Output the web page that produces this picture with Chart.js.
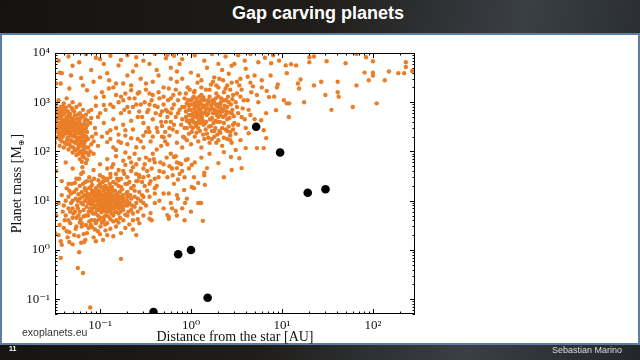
<!DOCTYPE html>
<html>
<head>
<meta charset="utf-8">
<script src="https://cdn.jsdelivr.net/npm/chart.js@4"></script>
<style>
  body { margin:0; width:640px; height:360px; overflow:hidden; position:relative;
    background: linear-gradient(100deg, #15130f 0%, #1f1d1a 45%, #3a3f45 75%, #23272b 100%);
    font-family: "Liberation Sans", Arial, sans-serif; }
  #title { position:absolute; top:3px; left:0; width:636px; text-align:center; color:#fff;
    font-weight:bold; font-size:18px; }
  #panel { position:absolute; left:0; top:33px; width:636px; height:308px; background:#fff;
    border:2px solid #5d7ea3; }
  #src { position:absolute; left:22px; top:326px; font-size:10.5px; color:#333; }
  #page { position:absolute; left:9px; top:345px; font-size:7px; color:#fff; font-weight:bold; }
  #author { position:absolute; right:18px; top:345px; font-size:9px; color:#ddd; }
  #wrap { position:absolute; left:0; top:34px; }
</style>
</head>
<body>
<div id="title">Gap carving planets</div>
<div id="panel"></div>
<div id="wrap"><canvas id="myChart" width="430" height="315"></canvas></div>
<div id="src">exoplanets.eu</div>
<div id="page">11</div>
<div id="author">Sebastian Marino</div>
<script>
// solar system planets (AU, Earth masses)
var solarDist = [0.387, 0.723, 1.0, 1.524, 5.2, 9.54, 19.2, 30.1];
var solarMass = [0.055, 0.815, 1.0, 0.107, 318, 95, 14.5, 17.1];

// exoplanets, [distance AU, mass Earth]
var hotJupiters = [[0.033,420],[0.034,260],[0.035,310],[0.035,520],[0.036,180],[0.036,380],[0.037,240],[0.037,650],[0.038,300],[0.038,450],
  [0.039,200],[0.039,560],[0.04,340],[0.04,270],[0.041,150],[0.041,420],[0.042,230],[0.042,780],[0.043,310],[0.043,500],
  [0.044,190],[0.044,360],[0.045,260],[0.045,620],[0.046,140],[0.046,400],[0.047,300],[0.047,210],[0.048,480],[0.048,170],
  [0.049,350],[0.05,260],[0.05,700],[0.051,120],[0.051,420],[0.052,200],[0.052,310],[0.053,540],[0.054,160],[0.054,380],
  [0.055,250],[0.056,110],[0.056,460],[0.057,190],[0.058,300],[0.058,90],[0.06,230],[0.06,600],[0.061,140],[0.062,350],
  [0.063,100],[0.064,200],[0.065,80],[0.066,270],[0.067,130],[0.068,420],[0.07,170],[0.071,95],[0.072,250],[0.074,120],
  [0.034,330],[0.036,290],[0.038,360],[0.039,250],[0.04,410],[0.041,300],[0.042,360],[0.043,250],[0.044,440],[0.045,330],
  [0.046,230],[0.047,380],[0.048,280],[0.049,210],[0.05,330],[0.052,250],[0.053,150],[0.055,330],[0.057,240],[0.059,170],
  [0.062,280],[0.064,150],[0.066,110],[0.068,210],[0.07,300],[0.033,900],[0.035,1100],[0.037,800],[0.04,950],[0.043,1200],
  [0.046,850],[0.05,1000],[0.055,800],[0.06,900],[0.065,700],[0.07,560],[0.075,650],[0.08,480],[0.078,380],
  [0.06,70],[0.063,62],[0.067,75],[0.07,58],[0.072,68],[0.075,85],[0.078,100],[0.08,140],[0.082,200],[0.085,160],
  [0.088,300],[0.09,230],[0.032,150],[0.033,190],[0.032,250],[0.032,350],[0.033,600],
  [0.0335,280],[0.0345,470],[0.0355,230],[0.0365,340],[0.0375,520],[0.0385,210],[0.0395,390],[0.0405,600],[0.0415,260],[0.0425,470],
  [0.0435,170],[0.0445,290],[0.0455,540],[0.0465,320],[0.0475,250],[0.0485,400],[0.0495,160],[0.0505,460],[0.0515,280],[0.0525,370],
  [0.0535,220],[0.0545,300],[0.0555,190],[0.0565,350],[0.0575,140],[0.0585,260],[0.0595,410],[0.0605,190],[0.0615,240],[0.0625,130],
  [0.0635,320],[0.0645,240],[0.0655,170],[0.0665,360],[0.0675,150],[0.0685,260],[0.0695,120],[0.0705,200],[0.072,340],[0.074,180],
  [0.034,720],[0.036,600],[0.038,680],[0.039,820],[0.041,700],[0.044,660],[0.047,580],[0.049,760],[0.052,650],[0.057,560],
  [0.061,480],[0.064,520],[0.069,450],[0.073,420],[0.036,130],[0.038,160],[0.04,120],[0.043,140],[0.045,110],[0.048,125],
  [0.05,95],[0.053,105],[0.055,85],[0.058,120],[0.061,100],[0.064,85],[0.067,95],[0.035,200],[0.037,175]];

var superEarths = [[0.04,8],[0.042,5],[0.045,12],[0.047,3.5],[0.05,7],[0.052,15],[0.055,4.5],[0.057,10],[0.06,6],[0.06,20],
  [0.063,3],[0.065,8.5],[0.067,13],[0.07,5],[0.072,25],[0.074,9],[0.076,3.8],[0.078,7],[0.08,11],[0.082,16],
  [0.084,5.5],[0.086,8],[0.088,2.6],[0.09,12],[0.092,6.5],[0.094,9.5],[0.096,20],[0.098,4.2],[0.1,7.5],[0.1,10.5],
  [0.102,14],[0.104,5.8],[0.106,8.8],[0.108,30],[0.11,6.2],[0.112,11],[0.114,3.3],[0.116,9],[0.118,17],[0.12,7],
  [0.122,12.5],[0.124,4.8],[0.126,9.8],[0.128,22],[0.13,6.5],[0.133,13],[0.136,8],[0.14,3.8],[0.143,10],[0.146,16],
  [0.15,6],[0.154,28],[0.158,8.5],[0.162,12],[0.166,4.5],[0.17,19],[0.175,7.2],[0.18,10],[0.185,35],[0.19,5.2],
  [0.195,14],[0.2,8],[0.21,24],[0.22,11],[0.23,5.5],[0.24,16],[0.25,9],[0.27,30],[0.29,13],[0.31,20],
  [0.038,13],[0.043,18],[0.048,9],[0.053,23],[0.058,13.5],[0.062,35],[0.068,18],[0.073,14],[0.077,10],[0.079,19],
  [0.081,6],[0.083,9],[0.085,13],[0.087,4],[0.089,7.5],[0.091,10],[0.093,15],[0.095,5],[0.097,8],[0.099,12],
  [0.101,3],[0.103,9],[0.105,11.5],[0.107,7],[0.109,16],[0.111,8],[0.113,13],[0.115,5],[0.117,11],[0.119,7.8],
  [0.121,9.5],[0.123,18],[0.125,6],[0.127,14],[0.129,8.5],[0.131,10.5],[0.135,5.5],[0.138,11],[0.142,7],[0.145,13],
  [0.148,9],[0.152,4],[0.156,11],[0.16,7],[0.165,15],[0.172,9],[0.178,13],[0.188,8],[0.198,10],[0.205,6],
  [0.215,13],[0.225,8],[0.235,20],[0.26,11],[0.28,7],[0.3,9],
  [0.035,2],[0.037,1.5],[0.04,2.8],[0.044,1.8],[0.046,2.3],[0.05,1.3],[0.054,2.7],[0.058,1.9],[0.063,3.5],[0.066,2.1],
  [0.069,1.6],[0.075,2.8],[0.085,1.8],[0.095,2.4],[0.105,3.6],[0.12,2],[0.13,2.7],[0.15,3],[0.17,2.2],[0.21,3.3],
  [0.26,4.2],[0.045,4],[0.055,3],[0.038,1.27],[0.059,0.9],[0.067,1.45],[0.046,1.45],[0.108,1.6],[0.032,2.2],
  [0.037,0.69],[0.057,0.43],[0.065,0.34],[0.078,0.068],[0.17,0.66],
  [0.5,7],[0.4,14],[0.36,5.6],[0.37,4],[0.27,3.5],[0.55,5.1],[0.57,4.3],[0.35,4.3],[0.25,2],[0.23,2.6],
  [0.062,9],[0.064,12],[0.066,6.5],[0.068,10],[0.071,7.5],[0.073,11],[0.075,6],[0.077,13],[0.079,8.5],[0.081,14],
  [0.083,7],[0.085,10],[0.087,12],[0.089,5.5],[0.091,8],[0.093,11],[0.095,13.5],[0.097,6.5],[0.099,9.5],[0.1,14],
  [0.102,8],[0.104,12],[0.106,6.5],[0.108,10],[0.11,13],[0.112,7.5],[0.114,9.5],[0.116,14],[0.118,6],[0.12,10.5],
  [0.122,8],[0.124,11],[0.126,7],[0.128,12],[0.13,9],[0.132,15],[0.134,6.8],[0.137,10],[0.14,12.5],[0.143,8],
  [0.146,10.5],[0.15,12],[0.155,7.5],[0.16,9.5],[0.165,11],[0.17,8],[0.175,12],[0.18,6.5],[0.19,9],[0.2,12],
  [0.05,10],[0.053,6],[0.056,8],[0.058,5],[0.06,11],[0.045,7],[0.048,14],[0.042,10],[0.047,6],[0.055,17],
  [0.065,22],[0.07,16],[0.08,25],[0.09,18],[0.1,22],[0.11,19],[0.12,26],[0.13,18],[0.14,24],[0.16,20],
  [0.05,4.5],[0.06,3.6],[0.07,3.2],[0.08,4],[0.09,3.5],[0.1,4.5],[0.11,4],[0.12,3.5],[0.13,4.2],[0.14,5],
  [0.16,5.5],[0.18,4],[0.2,5],[0.22,6.5],[0.24,7.5],[0.26,6],[0.28,10],[0.32,8],[0.35,12],[0.4,9],
  [0.033,5],[0.035,9],[0.036,3.2],[0.039,6],[0.041,4],[0.043,2.4],[0.052,2],[0.062,1.4],[0.072,2.2],[0.082,2.9],
  [0.09,1.5],[0.1,2.1],[0.115,2.5],[0.14,1.9],[0.16,3.6],[0.19,2.8],[0.23,4],[0.3,5],
  [0.046,16],[0.049,22],[0.051,5.5],[0.054,11],[0.057,7],[0.059,28],[0.061,4.2],[0.063,15],[0.066,4.8],[0.069,24],
  [0.071,12],[0.074,5],[0.076,18],[0.079,3.2],[0.082,21],[0.086,28],[0.088,15],[0.092,3.9],[0.096,26],[0.098,16],
  [0.103,19],[0.107,24],[0.11,4.6],[0.115,20],[0.118,28],[0.125,15],[0.13,30],[0.135,19],[0.14,16],[0.145,5.8],
  [0.15,22],[0.155,14],[0.16,26],[0.168,6],[0.175,17],[0.182,11],[0.19,22],[0.2,15],[0.21,9],[0.22,18],
  [0.24,12],[0.25,25],[0.27,15],[0.3,12],[0.33,16],[0.36,25],[0.4,18],[0.45,10],[0.5,14],[0.6,9],
  [0.7,5],[0.8,7],[0.9,11],[1.0,6],[0.85,4]];

var coldGiants = [[0.6,400],[0.65,900],[0.7,250],[0.72,600],[0.75,1500],[0.78,350],[0.8,800],[0.82,200],[0.85,1200],[0.88,500],
  [0.9,300],[0.92,2000],[0.95,700],[0.98,420],[1.0,1100],[1.02,250],[1.05,600],[1.08,1600],[1.1,380],[1.12,850],
  [1.15,520],[1.18,2500],[1.2,300],[1.22,700],[1.25,1000],[1.28,450],[1.3,1400],[1.33,600],[1.36,220],[1.4,850],
  [1.43,380],[1.46,1800],[1.5,550],[1.54,1100],[1.58,320],[1.62,700],[1.66,2300],[1.7,480],[1.75,950],[1.8,260],
  [1.85,650],[1.9,1500],[1.95,400],[2.0,800],[2.05,3000],[2.1,550],[2.15,1200],[2.2,300],[2.3,700],[2.4,1900],
  [2.5,450],[2.6,1000],[2.7,250],[2.8,600],[2.9,1400],[3.0,380],[3.2,800],[3.4,2200],[3.6,500],[3.8,1100],
  [4.0,300],[4.3,700],[4.6,1600],[5.0,450],[5.5,1000],
  [1.0,700],[1.05,900],[1.1,500],[1.15,1200],[1.2,800],[1.25,550],[1.3,900],[1.35,420],[1.4,1100],[1.45,700],
  [1.5,900],[1.55,600],[1.6,1300],[1.65,450],[1.7,750],[1.75,600],[1.8,1000],[1.85,420],[1.9,850],[1.95,650],
  [2.0,500],[2.1,900],[2.2,650],[2.3,1100],[2.4,550],[2.5,800],[2.6,620],[0.9,950],[0.95,550],[0.85,800],
  [0.7,150],[0.8,120],[0.9,170],[1.0,140],[1.1,200],[1.2,160],[1.3,120],[1.4,180],[1.6,150],[1.8,200],
  [2.0,170],[2.2,130],[2.5,180],[2.8,150],[3.1,230],[3.5,170],[1.5,230],[1.7,260],[2.4,280],[2.7,210],
  [0.8,3000],[1.0,4000],[1.2,3500],[1.5,5000],[1.8,3200],[2.2,4500],[2.6,3800],[3.0,6000],[3.5,3000],[4.0,4800],
  [4.5,2500],[5.0,3500],[6.0,2000],[1.3,2800],[0.7,2600],
  [0.65,77],[0.74,58],[0.7,46],[0.88,67],[1.02,53],[1.4,37],[1.5,46],[1.08,30],[2.0,58],[2.3,97],
  [2.75,77],[3.1,107],[4.0,117],[4.3,235],[5.3,117],[6.3,117],[6.7,187],[6.3,270],[5.9,430],[6.7,600],
  [8.6,690],[11.9,500],[11.3,950],[10.5,1100],[7.2,1270],[8.8,2000],[11.3,3900],[11,5600],[9.3,7000],[7.6,6200],
  [1.4,33],[2.3,30],[3.4,73],[3.6,46],[2.8,42],
  [0.57,14],[0.7,13],[0.72,11],[0.84,16.5],[1.02,19],[1.08,18],[1.2,23],[1.42,21],[0.86,9],[1.25,9],
  [0.62,7],[0.68,6.2],[0.57,4.7],[1.35,3.9],[1.29,9],[1.2,9],
  [0.95,850],[1.03,450],[1.07,1300],[1.12,650],[1.17,380],[1.22,1050],[1.27,700],[1.32,500],[1.37,1250],[1.42,600],
  [1.47,400],[1.52,750],[1.57,1000],[1.62,450],[1.67,850],[1.72,1100],[1.77,380],[1.82,700],[1.87,1200],[1.92,550],
  [1.97,900],[2.03,650],[2.08,400],[2.13,1000],[2.18,750],[2.25,500],[2.35,850],[2.45,650],[2.55,1300],[2.65,480],
  [2.75,900],[2.85,700],[2.95,520],[3.1,1000],[3.3,600],[3.5,1300],[3.7,750],[3.9,450],[4.2,1100],[4.5,550],
  [0.75,700],[0.8,450],[0.85,300],[0.88,1500],[0.92,420],[0.97,1800],[1.0,320],[1.1,1700],[1.3,2000],[1.6,1800],
  [1.9,2200],[2.3,1600],[2.7,1800],[3.2,1500],[0.6,1200],[0.55,500],[0.65,350],[0.68,1800],
  [1.05,300],[1.25,260],[1.45,280],[1.65,330],[1.85,300],[2.05,260],[2.3,380],[2.6,320],[2.9,280],[3.3,350],
  [1.15,240],[1.55,190],[1.95,220],[0.95,230],[0.85,190],
  [0.88,650],[0.9,420],[0.93,1100],[0.96,380],[0.99,900],[1.01,550],[1.04,1200],[1.06,400],[1.09,750],[1.11,1000],
  [1.14,330],[1.16,600],[1.19,900],[1.21,450],[1.24,1300],[1.26,380],[1.29,620],[1.31,1100],[1.34,800],[1.38,350],
  [1.7,180],[1.9,150],[2.1,240],[2.3,190],[2.5,260],[2.7,170],[2.9,350],[1.75,2600],[2.0,2000],[2.25,2800],
  [2.5,2200],[2.8,2500],[2.0,1300],[2.45,1100],[2.85,1150]];

var scattered = [[0.059,6500],[0.16,5600],[0.25,5600],[0.53,7800],[0.08,4500],[0.038,3900],[0.048,3500],[0.12,3900],[0.44,3500],[0.062,3100],
  [0.126,2800],[0.033,2400],[0.32,2400],[0.046,1900],[0.072,1750],[0.22,1750],[0.27,1600],[0.35,1500],[0.5,2000],[0.09,1250],
  [0.11,880],[0.16,1000],[0.21,630],[0.33,630],[0.13,270],[0.15,300],[0.19,270],[0.22,185],[0.32,250],[0.35,250],
  [0.12,155],[0.15,107],[0.25,122],[0.5,195],[0.53,400],[0.35,67],[0.19,53],[0.135,48],[0.27,33],[0.44,30],
  [0.064,48],[0.076,30],[0.036,4000],[0.037,2400],
  [0.18,350],[0.22,420],[0.26,500],[0.3,380],[0.34,700],[0.38,450],[0.42,300],[0.46,550],[0.5,900],[0.55,650],
  [0.45,1200],[0.4,850],[0.28,900],[0.24,1200],[0.2,800],[0.17,600],[0.14,450],[0.11,380],[0.1,600],[0.09,850],
  [0.13,180],[0.16,220],[0.2,140],[0.24,90],[0.3,120],[0.36,160],[0.42,110],[0.48,200],[0.55,140],[0.6,90],
  [0.4,60],[0.3,45],[0.22,60],[0.18,40],[0.26,25],[0.35,22],[0.45,40],[0.55,30],[0.65,22],[0.75,35],
  [0.12,70],[0.1,55],[0.15,80],
  [0.065,2200],[0.085,2600],[0.1,3200],[0.14,2000],[0.18,2400],[0.2,3500],[0.23,4200],[0.28,3000],[0.38,2600],[0.42,4500],
  [0.6,3000],[0.7,4200],[0.75,6000],[0.3,7000],[0.09,8000],[0.045,8500],[0.2,9000],[0.4,9500],[0.11,6000],[0.6,5000],
  [0.08,700],[0.095,500],[0.11,1300],[0.13,900],[0.15,1400],[0.18,1100],[0.19,1500],[0.23,800],[0.27,650],[0.31,1000],
  [0.37,1100],[0.43,800],[0.48,650],[0.56,1100],[0.62,750],[0.58,300],[0.52,250],[0.47,130],[0.38,90],[0.32,75],
  [0.085,90],[0.095,130],[0.105,200],[0.12,240],[0.14,120],[0.17,150],[0.19,95],[0.21,75],[0.25,55],[0.28,160],
  [0.33,40],[0.4,28],[0.5,55],[0.62,45],[0.7,60],[0.8,40],[0.95,45],[1.1,60],[1.3,75],[1.6,90],
  [0.042,60],[0.05,45],[0.033,40],[0.038,25],[0.055,28],[0.045,22],[0.065,38],[0.085,42],[0.1,33],[0.12,45],
  [0.15,35],[0.17,28],[0.22,40],[0.2,22],[0.3,30],
  [0.11,25],[0.13,35],[0.14,55],[0.16,42],[0.18,65],[0.2,30],[0.23,48],[0.25,35],[0.27,70],[0.29,24],
  [0.31,55],[0.34,32],[0.37,45],[0.39,70],[0.42,20],[0.46,60],[0.5,38],[0.54,75],[0.58,50],[0.63,33],
  [0.68,80],[0.72,27],[0.78,55],[0.85,30],[0.92,70],
  [0.105,1600],[0.115,700],[0.125,1900],[0.14,800],[0.15,2400],[0.17,1300],[0.185,700],[0.21,1200],[0.22,2200],[0.25,900],
  [0.26,1500],[0.29,500],[0.32,1800],[0.35,900],[0.38,1400],[0.41,600],[0.44,1600],[0.47,400],[0.5,1300],[0.53,700],
  [0.57,1900],[0.6,600],[0.64,1400],[0.68,500],[0.72,1100],
  [0.16,160],[0.19,210],[0.23,280],[0.26,180],[0.3,210],[0.34,300],[0.38,200],[0.43,250],[0.48,330],[0.52,160],
  [0.58,210],[0.63,280],
  [0.035,7000],[0.05,5500],[0.07,9500],[0.1,7500],[0.13,8800],[0.17,7200],[0.25,8200],[0.35,6000],[0.55,9200],[0.8,7500],
  [0.65,8800]];

var wideOrbits = [[12.6,5900],[14.3,5600],[20,8200],[22.5,8500],[20,6500],[31,6800],[50,6200],[66,9500],[84,8200],[100,6800],
  [81,4000],[100,4000],[100,3500],[90,2800],[150,4200],[190,3900],[220,3900],[230,5200],[230,6500],[270,4300],
  [135,2800],[66,2200],[41,2600],[41,1600],[42,1300],[30,1400],[27,2600],[22.5,2200],[16,2900],[15,2400],
  [15.4,1900],[17.5,1000],[35,700],[60,800],[110,950],[12,950],
  [1.1,9000],[1.4,7000],[1.7,9500],[2.0,6000],[2.4,8500],[2.8,5500],[3.3,9000],[3.9,7000],[4.5,9500],[5.5,6500],
  [6.5,8000],[8,9000],[3.2,2600],[3.6,1800],[4.2,3300],[4.8,2100],[5.3,1400],[6,2800],[6.8,1700],[7.5,3500],
  [8.2,1300],[9,2300]];

var xTicks = [0.1, 1, 10, 100];
var yTicks = [0.1, 1, 10, 100, 1000, 10000];
var tickText = {'0.1':'10\u207B\u00B9', '1':'10\u2070', '10':'10\u00B9', '100':'10\u00B2', '1000':'10\u00B3', '10000':'10\u2074'};
var yTitle = ['Planet mass [M', '\u2295', ']'];

function toPts(list) {
  return list.map(function(p) { return {x: p[0], y: p[1]}; });
}
var exoPoints = [].concat(toPts(hotJupiters), toPts(superEarths), toPts(coldGiants), toPts(scattered), toPts(wideOrbits));
var solarPoints = solarDist.map(function(d, i) { return {x: d, y: solarMass[i]}; });

var serifFam = '"Liberation Serif", "DejaVu Serif", serif';
var serif = {family: serifFam, size: 13};

// box frame + inward matplotlib style ticks on all sides, y title with subscript
var frameTicks = {
  id: 'frameTicks',
  afterDraw: function(chart) {
    var ctx = chart.ctx, a = chart.chartArea, sx = chart.scales.x, sy = chart.scales.y;
    ctx.save();
    ctx.strokeStyle = '#000';
    ctx.lineWidth = 1;
    ctx.strokeRect(a.left + 0.5, a.top + 0.5, a.right - a.left - 1, a.bottom - a.top - 1);
    ctx.beginPath();
    for (var e = -2; e <= 4; e++) {
      for (var k = 1; k <= 9; k++) {
        var v = k * Math.pow(10, e), len = k === 1 ? 5 : 2.5, p;
        if (v >= sx.min && v <= sx.max) {
          p = Math.round(sx.getPixelForValue(v)) + 0.5;
          ctx.moveTo(p, a.bottom); ctx.lineTo(p, a.bottom - len);
          ctx.moveTo(p, a.top); ctx.lineTo(p, a.top + len);
        }
        if (v >= sy.min && v <= sy.max) {
          p = Math.round(sy.getPixelForValue(v)) + 0.5;
          ctx.moveTo(a.left, p); ctx.lineTo(a.left + len, p);
          ctx.moveTo(a.right, p); ctx.lineTo(a.right - len, p);
        }
      }
    }
    ctx.stroke();

    // rotated y title
    var big = '14px ' + serifFam, small = '8px "DejaVu Sans", sans-serif';
    ctx.font = big;
    var w1 = ctx.measureText(yTitle[0]).width, w3 = ctx.measureText(yTitle[2]).width;
    ctx.font = small;
    var w2 = ctx.measureText(yTitle[1]).width + 1;
    var total = w1 + w2 + w3;
    ctx.translate(21, (a.top + a.bottom) / 2);
    ctx.rotate(-Math.PI / 2);
    ctx.fillStyle = '#111';
    ctx.textBaseline = 'alphabetic';
    ctx.textAlign = 'left';
    var x0 = -total / 2;
    ctx.font = big;
    ctx.fillText(yTitle[0], x0, 0);
    ctx.font = small;
    ctx.fillText(yTitle[1], x0 + w1, 3);
    ctx.font = big;
    ctx.fillText(yTitle[2], x0 + w1 + w2, 0);
    ctx.restore();
  }
};

var chart = new Chart('myChart', {
  type: 'scatter',
  data: {
    datasets: [{
      label: 'Solar System',
      data: solarPoints,
      backgroundColor: '#000',
      borderWidth: 0,
      pointRadius: 4.3
    }, {
      label: 'exoplanets',
      data: exoPoints,
      backgroundColor: 'rgb(234,126,40)',
      borderWidth: 0,
      pointRadius: 2.2
    }]
  },
  options: {
    responsive: false,
    animation: false,
    devicePixelRatio: 1,
    layout: {padding: {left: 5, top: 19, right: 15, bottom: 0}},
    plugins: {legend: {display: false}, tooltip: {enabled: false}},
    scales: {
      x: {
        type: 'logarithmic', min: 0.032, max: 290,
        afterBuildTicks: function(s) { s.ticks = xTicks.map(function(v) { return {value: v}; }); },
        afterFit: function(s) { s.height = 35; },
        grid: {display: false, drawTicks: false},
        border: {display: false},
        ticks: {color: '#111', font: serif, padding: 4, maxRotation: 0, autoSkip: false,
          callback: function(v) { return tickText[String(v)]; }},
        title: {display: true, text: 'Distance from the star [AU]', color: '#111', font: {family: serifFam, size: 14}, padding: {top: 0, bottom: 3}}
      },
      y: {
        type: 'logarithmic', min: 0.05, max: 10000,
        afterBuildTicks: function(s) { s.ticks = yTicks.map(function(v) { return {value: v}; }); },
        afterFit: function(s) { s.width = 50; },
        grid: {display: false, drawTicks: false},
        border: {display: false},
        ticks: {color: '#111', font: serif, padding: 5, autoSkip: false,
          callback: function(v) { return tickText[String(v)]; }}
      }
    }
  },
  plugins: [frameTicks]
});
</script>
</body>
</html>
